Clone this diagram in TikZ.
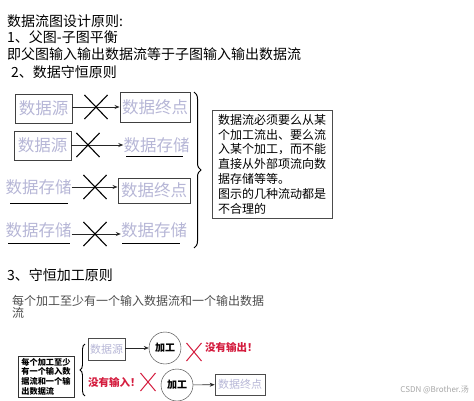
\documentclass[tikz,border=0pt]{standalone}
\usepackage{fontspec}
\setmainfont{Noto Sans CJK SC}
\usetikzlibrary{positioning,arrows.meta,shapes.misc,decorations.pathreplacing}

\definecolor{faded}{RGB}{182,182,214}
\definecolor{wrong}{RGB}{212,28,62}

\begin{document}
\begin{tikzpicture}[x=1pt,y=-1pt,
    hd/.style={anchor=west,inner sep=0pt,font=\fontsize{14}{14}\selectfont},
    dbox/.style={draw=black!75,line width=0.9pt,text=faded,font=\fontsize{16.5}{16.5}\selectfont,inner sep=1pt},
    dstore/.style={text=faded,font=\fontsize{16.5}{16.5}\selectfont,inner sep=0pt},
    flow/.style={-{Stealth[length=5pt,width=4pt]},black!85,line width=0.8pt},
    nogo/.style={draw,cross out,line width=1.1pt,minimum width=22pt,minimum height=23pt,inner sep=0pt},
    redx/.style={draw=wrong,cross out,line width=1pt,minimum width=14pt,minimum height=17pt,inner sep=0pt},
    proc/.style={draw=black!80,circle,minimum size=32pt,inner sep=0pt,font=\fontsize{10}{10}\selectfont\bfseries},
    sbox/.style={draw=black!70,line width=0.7pt,text=faded,font=\fontsize{11}{11}\selectfont,inner sep=1pt},
    alert/.style={anchor=west,inner sep=0pt,text=wrong,font=\fontsize{10.5}{10.5}\selectfont\bfseries}]
    \useasboundingbox (0,0) rectangle (474,401);

    % titres
    \node[hd] (t1) at (7,21) {数据流图设计原则:};
    \node[hd] (t2) at (7,37) {1、父图-子图平衡};
    \node[hd] (t3) at (7,54) {即父图输入输出数据流等于子图输入输出数据流};
    \node[hd] (t4) at (11,72) {2、数据守恒原则};

    % quatre flux interdits
    \node[dbox,minimum width=57pt,minimum height=29pt] (src1) at (43.5,108.5) {数据源};
    \node[dbox,minimum width=70pt,minimum height=30pt] (end1) at (155,107) {数据终点};
    \node[dbox,minimum width=57pt,minimum height=29pt] (src2) at (42.5,145.5) {数据源};
    \node[dstore] (st2) at (156.5,145) {数据存储};
    \node[dstore] (st3) at (38.5,187) {数据存储};
    \node[dbox,minimum width=72pt,minimum height=25pt] (end3) at (154,190.5) {数据终点};
    \node[dstore] (st4) at (38.5,230) {数据存储};
    \node[dstore] (st5) at (154,230) {数据存储};

    \draw[line width=0.9pt] (126,156) -- (183,156);
    \draw[line width=0.9pt] (10,203) -- (68,203);
    \draw[line width=0.9pt] (8,243) -- (70,243);
    \draw[line width=0.9pt] (122,243) -- (180,243);

    \draw[flow] (src1.east |- 0,107) -- (end1.west);
    \draw[flow] (src2.east |- st2) -- (st2.west);
    \draw[flow] (st3.east) -- (st3.east -| end3.west);
    \draw[flow] (st4.east |- 0,234) -- (st5.west |- 0,234);

    \node[nogo] (x1) at (96,107) {};
    \node[nogo] (x2) at (88,145) {};
    \node[nogo] (x3) at (95,187) {};
    \node[nogo] (x4) at (95,234) {};

    \draw[line width=1pt,decorate,decoration={brace,amplitude=7pt}] (194,92) -- (194,248);

    \node[draw=black!70,anchor=north west,align=left,inner sep=4pt,minimum width=120pt,minimum height=108pt,
          font=\fontsize{12}{14.8}\selectfont] (rule) at (212,110)
        {数据流必须要么从某\\个加工流出、要么流\\入某个加工，而不能\\直接从外部项流向数\\据存储等等。\\图示的几种流动都是\\不合理的};

    % principe 3
    \node[hd] (t5) at (7,275) {3、守恒加工原则};
    \node[anchor=north west,align=left,inner sep=0pt,text=black!70,font=\fontsize{12}{12.5}\selectfont] (t6) at (12,295)
        {每个加工至少有一个输入数据流和一个输出数据\\流};

    \node[draw=black!80,align=left,inner sep=2pt,minimum width=56pt,minimum height=41pt,
          font=\fontsize{8.2}{9.6}\selectfont\bfseries] (note) at (46,376.5)
        {每个加工至少\\有一个输入数\\据流和一个输\\出数据流};
    \draw[line width=0.9pt,decorate,decoration={brace,amplitude=5pt}] (85,396) -- (85,344);

    \node[sbox,minimum width=37pt,minimum height=22pt] (src6) at (106.5,349) {数据源};
    \node[proc] (p1) at (165,348) {加工};
    \node[redx] (x5) at (194,352) {};
    \node[alert] (m1) at (205,347) {没有输出！};
    \draw[flow,line width=0.6pt] (src6.east |- p1) -- (p1);

    \node[alert] (m2) at (88,382) {没有输入！};
    \node[redx] (x6) at (148,382) {};
    \node[proc] (p2) at (177,385) {加工};
    \node[sbox,minimum width=50pt,minimum height=21pt] (end6) at (240,384.5) {数据终点};
    \draw[flow,line width=0.6pt] (p2) -- (end6);

    \node[anchor=east,inner sep=0pt,text=black!35,font=\fontsize{8}{8}\selectfont] (mark) at (469,390) {CSDN @Brother.汤};
\end{tikzpicture}
\end{document}
